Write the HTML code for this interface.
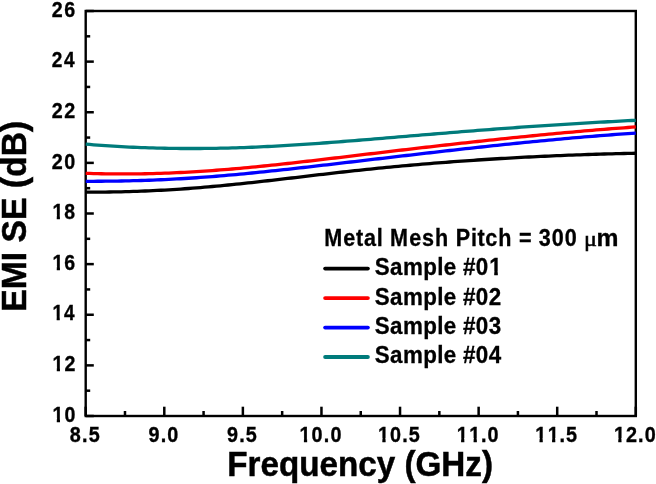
<!DOCTYPE html>
<html><head><meta charset="utf-8"><style>
html,body{margin:0;padding:0;background:#fff;}
body{width:656px;height:484px;overflow:hidden;}
svg{display:block;}
text{font-family:'Liberation Sans',Arial,sans-serif;font-weight:bold;fill:#000;font-kerning:none;}
</style></head><body>
<svg width="656" height="484" viewBox="0 0 656 484">
<defs><clipPath id="c1" clipPathUnits="userSpaceOnUse"><path clip-rule="evenodd" d="M-2000,-200H4000V200H-2000ZM59.29,-3.64H64.30V3H59.29ZM67.89,-3.64H72.62V3H67.89Z"/></clipPath><clipPath id="c2" clipPathUnits="userSpaceOnUse"><path clip-rule="evenodd" d="M-2000,-200H4000V200H-2000ZM59.35,-3.64H64.36V3H59.35ZM67.95,-3.64H72.68V3H67.95Z"/></clipPath><clipPath id="c3" clipPathUnits="userSpaceOnUse"><path clip-rule="evenodd" d="M-2000,-200H4000V200H-2000ZM61.44,-3.64H66.45V3H61.44ZM70.04,-3.64H74.77V3H70.04Z"/></clipPath><clipPath id="c4" clipPathUnits="userSpaceOnUse"><path clip-rule="evenodd" d="M-2000,-200H4000V200H-2000ZM59.58,-3.64H64.59V3H59.58ZM68.19,-3.64H72.91V3H68.19Z"/></clipPath><clipPath id="c5" clipPathUnits="userSpaceOnUse"><path clip-rule="evenodd" d="M-2000,-200H4000V200H-2000ZM59.91,-3.64H64.92V3H59.91ZM68.51,-3.64H73.24V3H68.51Z"/></clipPath><clipPath id="c6" clipPathUnits="userSpaceOnUse"><path clip-rule="evenodd" d="M-2000,-200H4000V200H-2000ZM335.48,-3.64H340.49V3H335.48ZM344.09,-3.64H348.81V3H344.09Z"/></clipPath><clipPath id="c7" clipPathUnits="userSpaceOnUse"><path clip-rule="evenodd" d="M-2000,-200H4000V200H-2000ZM423.36,-3.64H428.37V3H423.36ZM431.96,-3.64H436.69V3H431.96Z"/></clipPath><clipPath id="c8" clipPathUnits="userSpaceOnUse"><path clip-rule="evenodd" d="M-2000,-200H4000V200H-2000ZM511.57,-3.64H516.58V3H511.57ZM520.18,-3.64H524.90V3H520.18ZM525.60,-3.64H530.61V3H525.60ZM534.21,-3.64H538.93V3H534.21Z"/></clipPath><clipPath id="c9" clipPathUnits="userSpaceOnUse"><path clip-rule="evenodd" d="M-2000,-200H4000V200H-2000ZM599.45,-3.64H604.46V3H599.45ZM608.05,-3.64H612.78V3H608.05ZM613.48,-3.64H618.49V3H613.48ZM622.08,-3.64H626.81V3H622.08Z"/></clipPath><clipPath id="c10" clipPathUnits="userSpaceOnUse"><path clip-rule="evenodd" d="M-2000,-200H4000V200H-2000ZM687.66,-3.64H692.67V3H687.66ZM696.26,-3.64H700.99V3H696.26Z"/></clipPath><clipPath id="c11" clipPathUnits="userSpaceOnUse"><path clip-rule="evenodd" d="M-2000,-200H4000V200H-2000ZM503.11,-3.70H508.27V3H503.11ZM511.93,-3.70H516.81V3H511.93Z"/></clipPath></defs>
<g stroke="#000" stroke-width="2.5" fill="none">
<line x1="85.7" y1="416.00" x2="93.80" y2="416.00"/>
<line x1="85.7" y1="390.69" x2="90.20" y2="390.69"/>
<line x1="85.7" y1="365.38" x2="93.80" y2="365.38"/>
<line x1="85.7" y1="340.06" x2="90.20" y2="340.06"/>
<line x1="85.7" y1="314.75" x2="93.80" y2="314.75"/>
<line x1="85.7" y1="289.44" x2="90.20" y2="289.44"/>
<line x1="85.7" y1="264.12" x2="93.80" y2="264.12"/>
<line x1="85.7" y1="238.81" x2="90.20" y2="238.81"/>
<line x1="85.7" y1="213.50" x2="93.80" y2="213.50"/>
<line x1="85.7" y1="188.19" x2="90.20" y2="188.19"/>
<line x1="85.7" y1="162.88" x2="93.80" y2="162.88"/>
<line x1="85.7" y1="137.56" x2="90.20" y2="137.56"/>
<line x1="85.7" y1="112.25" x2="93.80" y2="112.25"/>
<line x1="85.7" y1="86.94" x2="90.20" y2="86.94"/>
<line x1="85.7" y1="61.62" x2="93.80" y2="61.62"/>
<line x1="85.7" y1="36.31" x2="90.20" y2="36.31"/>
<line x1="85.7" y1="11.00" x2="93.80" y2="11.00"/>
<line x1="85.70" y1="416.0" x2="85.70" y2="406.70"/>
<line x1="124.99" y1="416.0" x2="124.99" y2="411.00"/>
<line x1="164.29" y1="416.0" x2="164.29" y2="406.70"/>
<line x1="203.58" y1="416.0" x2="203.58" y2="411.00"/>
<line x1="242.87" y1="416.0" x2="242.87" y2="406.70"/>
<line x1="282.16" y1="416.0" x2="282.16" y2="411.00"/>
<line x1="321.46" y1="416.0" x2="321.46" y2="406.70"/>
<line x1="360.75" y1="416.0" x2="360.75" y2="411.00"/>
<line x1="400.04" y1="416.0" x2="400.04" y2="406.70"/>
<line x1="439.34" y1="416.0" x2="439.34" y2="411.00"/>
<line x1="478.63" y1="416.0" x2="478.63" y2="406.70"/>
<line x1="517.92" y1="416.0" x2="517.92" y2="411.00"/>
<line x1="557.21" y1="416.0" x2="557.21" y2="406.70"/>
<line x1="596.51" y1="416.0" x2="596.51" y2="411.00"/>
<line x1="635.80" y1="416.0" x2="635.80" y2="406.70"/>
</g>
<g stroke="#000" stroke-width="2.4" fill="none">
<rect x="85.7" y="11.0" width="550.10" height="405.00"/>
</g>
<g fill="none" stroke-width="3.3" stroke-linejoin="round">
<path d="M85.70,192.09 L89.66,192.11 L93.62,192.11 L97.57,192.10 L101.53,192.08 L105.49,192.05 L109.45,192.00 L113.40,191.94 L117.36,191.87 L121.32,191.78 L125.28,191.69 L129.23,191.58 L133.19,191.45 L137.15,191.32 L141.11,191.17 L145.06,191.02 L149.02,190.84 L152.98,190.66 L156.94,190.47 L160.89,190.26 L164.85,190.04 L168.81,189.81 L172.77,189.57 L176.72,189.32 L180.68,189.05 L184.64,188.77 L188.60,188.48 L192.55,188.18 L196.51,187.87 L200.47,187.55 L204.43,187.21 L208.38,186.87 L212.34,186.51 L216.30,186.15 L220.26,185.78 L224.21,185.40 L228.17,185.01 L232.13,184.61 L236.09,184.20 L240.04,183.79 L244.00,183.37 L247.96,182.95 L251.92,182.52 L255.87,182.08 L259.83,181.64 L263.79,181.20 L267.75,180.75 L271.71,180.29 L275.66,179.84 L279.62,179.38 L283.58,178.92 L287.54,178.45 L291.49,177.99 L295.45,177.52 L299.41,177.06 L303.37,176.59 L307.32,176.13 L311.28,175.66 L315.24,175.20 L319.20,174.73 L323.15,174.27 L327.11,173.81 L331.07,173.36 L335.03,172.90 L338.98,172.45 L342.94,172.01 L346.90,171.57 L350.86,171.13 L354.81,170.70 L358.77,170.27 L362.73,169.85 L366.69,169.44 L370.64,169.03 L374.60,168.63 L378.56,168.23 L382.52,167.84 L386.47,167.45 L390.43,167.07 L394.39,166.69 L398.35,166.32 L402.30,165.96 L406.26,165.60 L410.22,165.24 L414.18,164.89 L418.13,164.55 L422.09,164.21 L426.05,163.88 L430.01,163.55 L433.96,163.23 L437.92,162.91 L441.88,162.60 L445.84,162.29 L449.79,161.99 L453.75,161.69 L457.71,161.40 L461.67,161.11 L465.63,160.83 L469.58,160.55 L473.54,160.28 L477.50,160.01 L481.46,159.75 L485.41,159.50 L489.37,159.24 L493.33,159.00 L497.29,158.75 L501.24,158.52 L505.20,158.29 L509.16,158.06 L513.12,157.84 L517.07,157.62 L521.03,157.41 L524.99,157.20 L528.95,156.99 L532.90,156.80 L536.86,156.60 L540.82,156.41 L544.78,156.23 L548.73,156.05 L552.69,155.87 L556.65,155.70 L560.61,155.54 L564.56,155.38 L568.52,155.22 L572.48,155.07 L576.44,154.92 L580.39,154.78 L584.35,154.64 L588.31,154.51 L592.27,154.38 L596.22,154.25 L600.18,154.13 L604.14,154.02 L608.10,153.90 L612.05,153.80 L616.01,153.69 L619.97,153.59 L623.93,153.50 L627.88,153.41 L631.84,153.32 L635.80,153.24" stroke="#000000"/>
<path d="M85.70,173.31 L89.66,173.45 L93.62,173.57 L97.57,173.67 L101.53,173.76 L105.49,173.83 L109.45,173.89 L113.40,173.93 L117.36,173.96 L121.32,173.97 L125.28,173.97 L129.23,173.96 L133.19,173.93 L137.15,173.88 L141.11,173.83 L145.06,173.75 L149.02,173.67 L152.98,173.57 L156.94,173.46 L160.89,173.33 L164.85,173.19 L168.81,173.04 L172.77,172.87 L176.72,172.70 L180.68,172.51 L184.64,172.31 L188.60,172.09 L192.55,171.87 L196.51,171.63 L200.47,171.38 L204.43,171.12 L208.38,170.84 L212.34,170.56 L216.30,170.27 L220.26,169.96 L224.21,169.65 L228.17,169.32 L232.13,168.99 L236.09,168.65 L240.04,168.29 L244.00,167.93 L247.96,167.57 L251.92,167.19 L255.87,166.80 L259.83,166.41 L263.79,166.01 L267.75,165.61 L271.71,165.20 L275.66,164.78 L279.62,164.36 L283.58,163.93 L287.54,163.49 L291.49,163.06 L295.45,162.61 L299.41,162.17 L303.37,161.71 L307.32,161.26 L311.28,160.80 L315.24,160.34 L319.20,159.88 L323.15,159.41 L327.11,158.94 L331.07,158.47 L335.03,158.00 L338.98,157.53 L342.94,157.06 L346.90,156.58 L350.86,156.11 L354.81,155.64 L358.77,155.16 L362.73,154.69 L366.69,154.22 L370.64,153.75 L374.60,153.28 L378.56,152.81 L382.52,152.34 L386.47,151.87 L390.43,151.40 L394.39,150.94 L398.35,150.47 L402.30,150.01 L406.26,149.54 L410.22,149.08 L414.18,148.62 L418.13,148.16 L422.09,147.71 L426.05,147.25 L430.01,146.80 L433.96,146.34 L437.92,145.89 L441.88,145.44 L445.84,144.99 L449.79,144.55 L453.75,144.11 L457.71,143.66 L461.67,143.22 L465.63,142.79 L469.58,142.35 L473.54,141.92 L477.50,141.49 L481.46,141.06 L485.41,140.63 L489.37,140.21 L493.33,139.79 L497.29,139.37 L501.24,138.96 L505.20,138.54 L509.16,138.13 L513.12,137.73 L517.07,137.32 L521.03,136.92 L524.99,136.53 L528.95,136.13 L532.90,135.74 L536.86,135.35 L540.82,134.97 L544.78,134.59 L548.73,134.21 L552.69,133.83 L556.65,133.46 L560.61,133.10 L564.56,132.73 L568.52,132.37 L572.48,132.02 L576.44,131.67 L580.39,131.32 L584.35,130.98 L588.31,130.64 L592.27,130.30 L596.22,129.97 L600.18,129.64 L604.14,129.32 L608.10,129.01 L612.05,128.69 L616.01,128.38 L619.97,128.08 L623.93,127.78 L627.88,127.49 L631.84,127.20 L635.80,126.91" stroke="#ff0000"/>
<path d="M85.70,181.29 L89.66,181.29 L93.62,181.29 L97.57,181.27 L101.53,181.25 L105.49,181.21 L109.45,181.17 L113.40,181.12 L117.36,181.06 L121.32,180.99 L125.28,180.91 L129.23,180.82 L133.19,180.72 L137.15,180.61 L141.11,180.49 L145.06,180.37 L149.02,180.23 L152.98,180.08 L156.94,179.92 L160.89,179.75 L164.85,179.57 L168.81,179.38 L172.77,179.18 L176.72,178.96 L180.68,178.74 L184.64,178.50 L188.60,178.26 L192.55,178.00 L196.51,177.73 L200.47,177.45 L204.43,177.16 L208.38,176.86 L212.34,176.56 L216.30,176.24 L220.26,175.91 L224.21,175.58 L228.17,175.23 L232.13,174.88 L236.09,174.52 L240.04,174.15 L244.00,173.78 L247.96,173.40 L251.92,173.01 L255.87,172.62 L259.83,172.22 L263.79,171.81 L267.75,171.40 L271.71,170.98 L275.66,170.56 L279.62,170.13 L283.58,169.70 L287.54,169.27 L291.49,168.83 L295.45,168.39 L299.41,167.94 L303.37,167.50 L307.32,167.05 L311.28,166.59 L315.24,166.14 L319.20,165.68 L323.15,165.22 L327.11,164.77 L331.07,164.31 L335.03,163.84 L338.98,163.38 L342.94,162.92 L346.90,162.46 L350.86,161.99 L354.81,161.53 L358.77,161.07 L362.73,160.60 L366.69,160.14 L370.64,159.67 L374.60,159.21 L378.56,158.74 L382.52,158.28 L386.47,157.82 L390.43,157.35 L394.39,156.89 L398.35,156.43 L402.30,155.96 L406.26,155.50 L410.22,155.04 L414.18,154.58 L418.13,154.12 L422.09,153.67 L426.05,153.21 L430.01,152.76 L433.96,152.30 L437.92,151.85 L441.88,151.40 L445.84,150.95 L449.79,150.50 L453.75,150.06 L457.71,149.61 L461.67,149.17 L465.63,148.73 L469.58,148.30 L473.54,147.86 L477.50,147.43 L481.46,147.00 L485.41,146.57 L489.37,146.14 L493.33,145.72 L497.29,145.30 L501.24,144.89 L505.20,144.47 L509.16,144.06 L513.12,143.65 L517.07,143.25 L521.03,142.85 L524.99,142.45 L528.95,142.06 L532.90,141.67 L536.86,141.28 L540.82,140.90 L544.78,140.52 L548.73,140.14 L552.69,139.77 L556.65,139.41 L560.61,139.04 L564.56,138.69 L568.52,138.33 L572.48,137.98 L576.44,137.64 L580.39,137.30 L584.35,136.96 L588.31,136.63 L592.27,136.31 L596.22,135.99 L600.18,135.67 L604.14,135.36 L608.10,135.06 L612.05,134.76 L616.01,134.47 L619.97,134.18 L623.93,133.90 L627.88,133.62 L631.84,133.35 L635.80,133.09" stroke="#0000ff"/>
<path d="M85.70,144.12 L89.66,144.46 L93.62,144.78 L97.57,145.09 L101.53,145.38 L105.49,145.66 L109.45,145.93 L113.40,146.18 L117.36,146.42 L121.32,146.64 L125.28,146.86 L129.23,147.05 L133.19,147.24 L137.15,147.41 L141.11,147.57 L145.06,147.72 L149.02,147.85 L152.98,147.97 L156.94,148.08 L160.89,148.18 L164.85,148.26 L168.81,148.33 L172.77,148.39 L176.72,148.44 L180.68,148.48 L184.64,148.50 L188.60,148.52 L192.55,148.52 L196.51,148.51 L200.47,148.49 L204.43,148.45 L208.38,148.41 L212.34,148.36 L216.30,148.29 L220.26,148.21 L224.21,148.13 L228.17,148.03 L232.13,147.92 L236.09,147.81 L240.04,147.68 L244.00,147.54 L247.96,147.39 L251.92,147.24 L255.87,147.07 L259.83,146.89 L263.79,146.71 L267.75,146.51 L271.71,146.31 L275.66,146.10 L279.62,145.88 L283.58,145.65 L287.54,145.42 L291.49,145.18 L295.45,144.93 L299.41,144.67 L303.37,144.41 L307.32,144.15 L311.28,143.87 L315.24,143.60 L319.20,143.31 L323.15,143.02 L327.11,142.73 L331.07,142.43 L335.03,142.13 L338.98,141.82 L342.94,141.51 L346.90,141.20 L350.86,140.89 L354.81,140.57 L358.77,140.25 L362.73,139.92 L366.69,139.60 L370.64,139.27 L374.60,138.94 L378.56,138.61 L382.52,138.28 L386.47,137.95 L390.43,137.62 L394.39,137.29 L398.35,136.96 L402.30,136.63 L406.26,136.30 L410.22,135.96 L414.18,135.63 L418.13,135.30 L422.09,134.97 L426.05,134.65 L430.01,134.32 L433.96,133.99 L437.92,133.66 L441.88,133.34 L445.84,133.02 L449.79,132.69 L453.75,132.37 L457.71,132.05 L461.67,131.73 L465.63,131.42 L469.58,131.10 L473.54,130.79 L477.50,130.48 L481.46,130.17 L485.41,129.86 L489.37,129.56 L493.33,129.26 L497.29,128.96 L501.24,128.66 L505.20,128.37 L509.16,128.07 L513.12,127.79 L517.07,127.50 L521.03,127.22 L524.99,126.94 L528.95,126.66 L532.90,126.39 L536.86,126.12 L540.82,125.85 L544.78,125.59 L548.73,125.33 L552.69,125.07 L556.65,124.81 L560.61,124.56 L564.56,124.32 L568.52,124.07 L572.48,123.83 L576.44,123.59 L580.39,123.35 L584.35,123.12 L588.31,122.88 L592.27,122.65 L596.22,122.43 L600.18,122.20 L604.14,121.98 L608.10,121.76 L612.05,121.55 L616.01,121.33 L619.97,121.12 L623.93,120.91 L627.88,120.70 L631.84,120.50 L635.80,120.29" stroke="#007b7b"/>
</g>
<text transform="translate(0,421.70) scale(0.8834,1)" x="59.39 72.92" y="0" font-size="22.2" stroke="#000" stroke-width="0.35" clip-path="url(#c1)">10</text>
<text transform="translate(0,371.07) scale(0.8825,1)" x="59.45 72.97" y="0" font-size="22.2" stroke="#000" stroke-width="0.35" clip-path="url(#c2)">12</text>
<text transform="translate(0,320.45) scale(0.8530,1)" x="61.54 75.06" y="0" font-size="22.2" stroke="#000" stroke-width="0.35" clip-path="url(#c3)">14</text>
<text transform="translate(0,269.82) scale(0.8791,1)" x="59.69 73.21" y="0" font-size="22.2" stroke="#000" stroke-width="0.35" clip-path="url(#c4)">16</text>
<text transform="translate(0,219.20) scale(0.8744,1)" x="60.01 73.53" y="0" font-size="22.2" stroke="#000" stroke-width="0.35" clip-path="url(#c5)">18</text>
<text transform="translate(0,168.57) scale(0.8891,1)" x="58.34 72.37" y="0" font-size="22.2" stroke="#000" stroke-width="0.35">20</text>
<text transform="translate(0,117.95) scale(0.8882,1)" x="58.39 72.42" y="0" font-size="22.2" stroke="#000" stroke-width="0.35">22</text>
<text transform="translate(0,67.33) scale(0.8595,1)" x="60.34 74.40" y="0" font-size="22.2" stroke="#000" stroke-width="0.35">24</text>
<text transform="translate(0,16.70) scale(0.8849,1)" x="58.61 72.65" y="0" font-size="22.2" stroke="#000" stroke-width="0.35">26</text>
<text transform="translate(0,441.70) scale(0.8926,1)" x="78.27 91.87 99.31" y="0" font-size="22.2" stroke="#000" stroke-width="0.35">8.5</text>
<text transform="translate(0,441.70) scale(0.8926,1)" x="166.44 180.05 187.48" y="0" font-size="22.2" stroke="#000" stroke-width="0.35">9.0</text>
<text transform="translate(0,441.70) scale(0.8926,1)" x="254.31 267.92 275.36" y="0" font-size="22.2" stroke="#000" stroke-width="0.35">9.5</text>
<text transform="translate(0,441.70) scale(0.8926,1)" x="335.58 349.12 362.73 370.16" y="0" font-size="22.2" stroke="#000" stroke-width="0.35" clip-path="url(#c6)">10.0</text>
<text transform="translate(0,441.70) scale(0.8926,1)" x="423.46 436.99 450.60 458.04" y="0" font-size="22.2" stroke="#000" stroke-width="0.35" clip-path="url(#c7)">10.5</text>
<text transform="translate(0,441.70) scale(0.8926,1)" x="511.67 525.70 538.82 546.24" y="0" font-size="22.2" stroke="#000" stroke-width="0.35" clip-path="url(#c8)">11.0</text>
<text transform="translate(0,441.70) scale(0.8926,1)" x="599.55 613.58 626.69 634.13" y="0" font-size="22.2" stroke="#000" stroke-width="0.35" clip-path="url(#c9)">11.5</text>
<text transform="translate(0,441.70) scale(0.8926,1)" x="687.76 701.29 714.90 722.33" y="0" font-size="22.2" stroke="#000" stroke-width="0.35" clip-path="url(#c10)">12.0</text>
<text x="227.30" y="476.30" font-size="35.4" textLength="265.71" lengthAdjust="spacingAndGlyphs" stroke="#000" stroke-width="0.5">Frequency (GHz)</text>
<g transform="translate(25.6,309.75) rotate(-90)"><text x="-2.00" y="0.00" font-size="35.4" textLength="190.98" lengthAdjust="spacingAndGlyphs" stroke="#000" stroke-width="0.5">EMI SE (dB)</text></g>
<line x1="325.1" y1="268.6" x2="367.9" y2="268.6" stroke="#000000" stroke-width="3.8" stroke-linecap="round"/>
<text transform="translate(0,275.05) scale(0.9724,1)" x="385.31 401.10 414.40 435.39 449.74 456.43 469.52 476.21 489.39 503.16" y="0" font-size="23.0" stroke="#000" stroke-width="0.3" clip-path="url(#c11)">Sample #01</text>
<line x1="325.1" y1="298.05" x2="367.9" y2="298.05" stroke="#ff0000" stroke-width="3.8" stroke-linecap="round"/>
<text transform="translate(0,304.50) scale(0.9724,1)" x="385.31 401.10 414.40 435.39 449.74 456.43 469.52 476.21 489.39 502.58" y="0" font-size="23.0" stroke="#000" stroke-width="0.3">Sample #02</text>
<line x1="325.1" y1="327.55" x2="367.9" y2="327.55" stroke="#0000ff" stroke-width="3.8" stroke-linecap="round"/>
<text transform="translate(0,334.00) scale(0.9724,1)" x="385.31 401.10 414.40 435.39 449.74 456.43 469.52 476.21 489.39 502.58" y="0" font-size="23.0" stroke="#000" stroke-width="0.3">Sample #03</text>
<line x1="325.1" y1="357.0" x2="367.9" y2="357.0" stroke="#007b7b" stroke-width="3.8" stroke-linecap="round"/>
<text transform="translate(0,363.45) scale(0.9724,1)" x="385.31 401.10 414.40 435.39 449.74 456.43 469.52 476.21 489.39 502.58" y="0" font-size="23.0" stroke="#000" stroke-width="0.3">Sample #04</text>
<text transform="translate(0,245.60) scale(0.9390,1)" x="345.29 365.66 379.22 387.68 401.16 408.03 415.38 435.75 449.49 463.31 478.12 485.35 501.48 508.40 516.84 530.64 545.45 552.59 566.77 573.87 587.63 601.39" y="0" font-size="23.0" stroke="#000" stroke-width="0.3">Metal Mesh Pitch = 300</text>
<text transform="translate(0,245.60) scale(1.0738,1)" x="555.49" y="0" font-size="23.0" stroke="#000" stroke-width="0.3">m</text>
<text transform="translate(584.03,245.7) scale(1.15,1)" x="0" y="0" font-size="21" stroke="#000" stroke-width="0.5" style="font-weight:normal;font-family:'Liberation Serif',serif">&#956;</text>
</svg>
</body></html>
